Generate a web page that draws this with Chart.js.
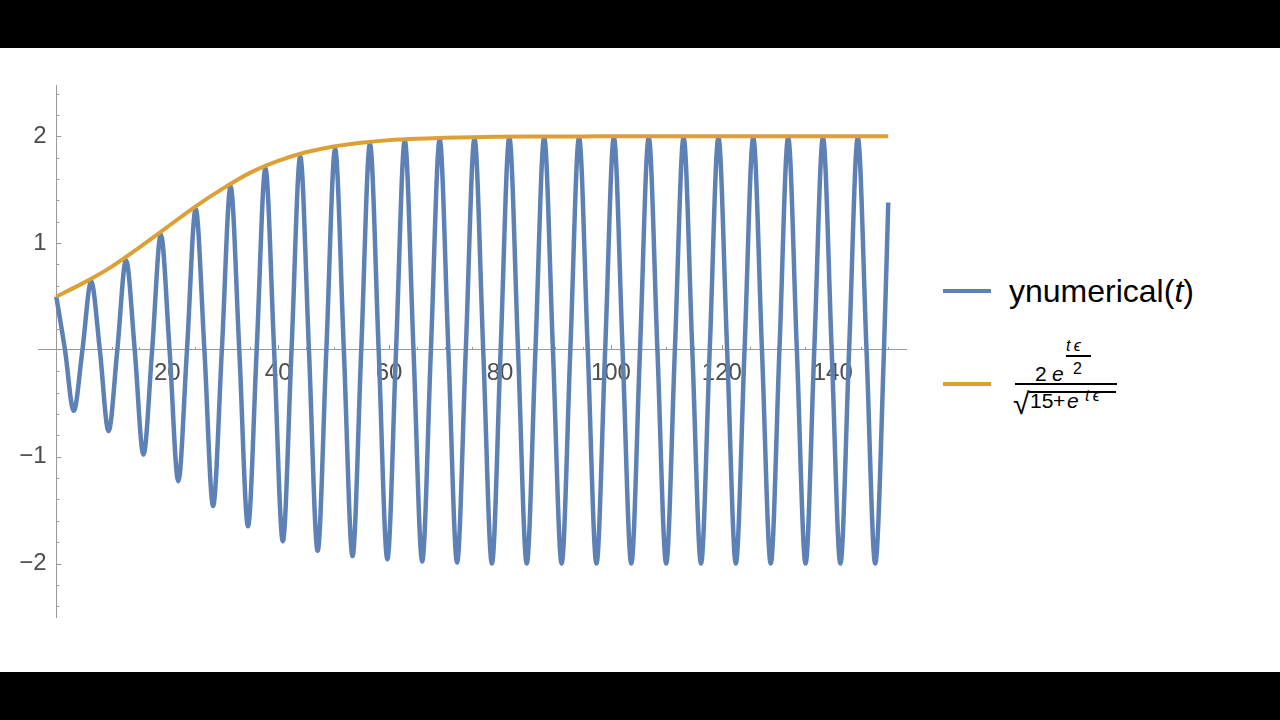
<!DOCTYPE html>
<html>
<head>
<meta charset="utf-8">
<script src="https://cdn.jsdelivr.net/npm/chart.js@4.4.1/dist/chart.umd.min.js"></script>
<style>
  html, body { margin: 0; padding: 0; width: 1280px; height: 720px; background: #000; overflow: hidden; }
  #band { position: absolute; left: 0; top: 48px; width: 1280px; height: 624px; background: #fff; }
  #wrap { position: absolute; left: 0; top: 48px; width: 930px; height: 624px; }
  .lg { position: absolute; font-family: "Liberation Sans", Arial, sans-serif; color: #000; line-height: 1; white-space: nowrap; }
  .sw { position: absolute; width: 48px; height: 4px; }
  .bar { position: absolute; background: #000; }
  i { font-style: italic; }
</style>
</head>
<body>
<div id="band"></div>
<div id="wrap"><canvas id="plot" width="930" height="624"></canvas></div>

<!-- legend -->
<div class="sw" style="left:943px; top:289px; background:#5E81B5;"></div>
<div class="lg" style="left:1009px; top:275px; font-size:32px;">ynumerical(<i>t</i>)</div>

<div class="sw" style="left:943px; top:382px; background:#DDA035;"></div>
<div class="lg" style="left:1035px; top:363px; font-size:21px;">2</div>
<div class="lg" style="left:1052px; top:363px; font-size:21px;"><i>e</i></div>
<div class="lg" style="left:1066px; top:338px; font-size:16px;"><i>t</i>&#8201;<i>ϵ</i></div>
<div class="bar" style="left:1066px; top:355px; width:25px; height:1.5px;"></div>
<div class="lg" style="left:1073px; top:361px; font-size:16px;">2</div>
<div class="bar" style="left:1015px; top:383px; width:102px; height:2px;"></div>
<div class="lg" style="left:1013px; top:389px; font-size:30px;">√</div>
<div class="bar" style="left:1029px; top:391px; width:87px; height:1.5px;"></div>
<div class="lg" style="left:1030px; top:390px; font-size:21px;">15</div>
<div class="lg" style="left:1053px; top:390px; font-size:21px;">+</div>
<div class="lg" style="left:1067px; top:390px; font-size:21px;"><i>e</i></div>
<div class="lg" style="left:1085px; top:388px; font-size:16px;"><i>t</i>&#8201;<i>ϵ</i></div>

<script>
// oscillating solution, read at its extrema and zero crossings
const ynumT = [
  0, 1.57, 3.14, 4.71, 6.28, 7.85, 9.42, 11.00,
  12.57, 14.14, 15.71, 17.28, 18.85, 20.42, 21.99, 23.56,
  25.13, 26.70, 28.27, 29.85, 31.42, 32.99, 34.56, 36.13,
  37.70, 39.27, 40.84, 42.41, 43.98, 45.55, 47.12, 48.69,
  50.27, 51.84, 53.41, 54.98, 56.55, 58.12, 59.69, 61.26,
  62.83, 64.40, 65.97, 67.54, 69.12, 70.69, 72.26, 73.83,
  75.40, 76.97, 78.54, 80.11, 81.68, 83.25, 84.82, 86.39,
  87.96, 89.54, 91.11, 92.68, 94.25, 95.82, 97.39, 98.96,
  100.53, 102.10, 103.67, 105.24, 106.81, 108.38, 109.96, 111.53,
  113.10, 114.67, 116.24, 117.81, 119.38, 120.95, 122.52, 124.09,
  125.66, 127.23, 128.81, 130.38, 131.95, 133.52, 135.09, 136.66,
  138.23, 139.80, 141.37, 142.94, 144.51, 146.08, 147.65, 149.23,
  150
];
const ynumY = [
  0.50, 0, -0.57, 0, 0.64, 0, -0.76, 0,
  0.84, 0, -0.98, 0, 1.08, 0, -1.23, 0,
  1.32, 0, -1.46, 0, 1.53, 0, -1.65, 0,
  1.70, 0, -1.79, 0, 1.81, 0, -1.88, 0,
  1.88, 0, -1.93, 0, 1.93, 0, -1.96, 0,
  1.96, 0, -1.98, 0, 1.97, 0, -1.99, 0,
  1.98, 0, -2.00, 0, 1.99, 0, -2.00, 0,
  1.99, 0, -2.00, 0, 1.99, 0, -2.00, 0,
  1.99, 0, -2.00, 0, 1.99, 0, -2.00, 0,
  1.99, 0, -2.00, 0, 1.99, 0, -2.00, 0,
  1.99, 0, -2.00, 0, 1.99, 0, -2.00, 0,
  1.99, 0, -2.00, 0, 1.99, 0, -2.00, 0,
  1.38
];

// envelope curve
const envT = [0, 5, 10, 15, 20, 25, 30, 35, 40, 45, 50, 55, 60, 65, 70, 75,
  80, 85, 90, 95, 100, 105, 110, 115, 120, 125, 130, 135, 140, 145, 150];
const envY = [0.50, 0.63, 0.78, 0.96, 1.15, 1.34, 1.51, 1.66, 1.77, 1.85, 1.905, 1.94, 1.964, 1.978, 1.986, 1.992,
  1.995, 1.997, 1.998, 1.999, 2.00, 2.00, 2.00, 2.00, 2.00, 2.00, 2.00, 2.00, 2.00, 2.00, 2.00];

const xTickValues = [20, 40, 60, 80, 100, 120, 140];
const yTickValues = [-2, -1, 1, 2];

const blue = "#5E81B5";
const orange = "#DDA035";
const axisColor = "#9a9a9a";
const labelColor = "#4d4d4d";

const fmt = (v) => (v < 0 ? "\u2212" + Math.abs(v) : String(v));

// Mathematica style ticks: short marks pointing into the plot, with minor ones
const axisTicks = {
  id: "axisTicks",
  beforeDatasetsDraw(chart) {
    const { ctx, scales: { x, y } } = chart;
    const ax = x.getPixelForValue(0);
    const ay = y.getPixelForValue(0);
    ctx.save();
    ctx.strokeStyle = axisColor;
    ctx.lineWidth = 1;
    ctx.beginPath();
    for (let t = 5; t <= 150; t += 5) {
      const px = Math.round(x.getPixelForValue(t)) + 0.5;
      const len = xTickValues.includes(t) ? 5 : 3;
      ctx.moveTo(px, ay);
      ctx.lineTo(px, ay - len);
    }
    for (let k = -12; k <= 12; k++) {
      if (k === 0) continue;
      const py = Math.round(y.getPixelForValue(k / 5)) + 0.5;
      const len = k % 5 === 0 ? 5 : 3;
      ctx.moveTo(ax, py);
      ctx.lineTo(ax + len, py);
    }
    ctx.stroke();
    ctx.restore();
  }
};

new Chart(document.getElementById("plot"), {
  type: "line",
  data: {
    datasets: [
      {
        label: "ynumerical(t)",
        data: ynumT.map((t, i) => ({ x: t, y: ynumY[i] })),
        borderColor: blue,
        borderWidth: 4.5,
        pointRadius: 0,
        cubicInterpolationMode: "monotone",
        order: 1
      },
      {
        label: "envelope",
        data: envT.map((t, i) => ({ x: t, y: envY[i] })),
        borderColor: orange,
        borderWidth: 4,
        pointRadius: 0,
        cubicInterpolationMode: "monotone",
        order: 0
      }
    ]
  },
  options: {
    responsive: false,
    animation: false,
    layout: { padding: { left: 38, top: 37, right: 24, bottom: 55 } },
    plugins: { legend: { display: false }, tooltip: { enabled: false } },
    scales: {
      x: {
        type: "linear",
        position: { y: 0 },
        min: -3.3,
        max: 153.2,
        afterBuildTicks: (s) => { s.ticks = xTickValues.map((v) => ({ value: v })); },
        grid: { drawOnChartArea: false, drawTicks: false },
        border: { display: true, color: axisColor, width: 1 },
        ticks: {
          padding: 9,
          color: labelColor,
          font: { family: "Liberation Sans", size: 24 },
          maxRotation: 0,
          autoSkip: false,
          callback: (v) => fmt(v)
        }
      },
      y: {
        type: "linear",
        position: { x: 0 },
        min: -2.5,
        max: 2.48,
        afterBuildTicks: (s) => { s.ticks = yTickValues.map((v) => ({ value: v })); },
        grid: { drawOnChartArea: false, drawTicks: false },
        border: { display: true, color: axisColor, width: 1 },
        ticks: {
          color: labelColor,
          font: { family: "Liberation Sans", size: 24 },
          autoSkip: false,
          // trailing thin spaces keep the labels clear of the axis line
          callback: (v) => fmt(v) + "\u2009\u2009"
        }
      }
    }
  },
  plugins: [axisTicks]
});
</script>
</body>
</html>
